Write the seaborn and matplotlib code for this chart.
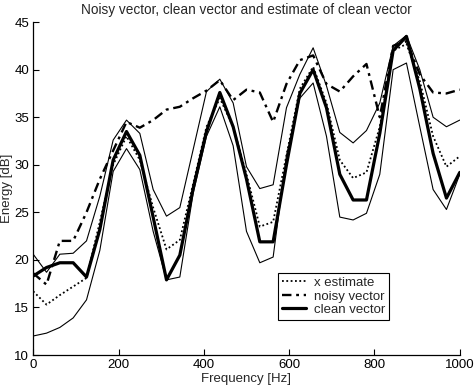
import numpy as np
import pandas as pd
import seaborn as sns
import matplotlib.pyplot as plt

# --- DATA ---
freq = np.linspace(0, 1000, 33)

clean_vector = [18.3, 19.2, 19.7, 19.7, 18.2, 23.2, 30.5, 33.5, 31.0, 24.5, 17.9,
                20.5, 27.5, 33.5, 37.6, 34.0, 28.5, 21.9, 21.9, 30.0, 37.5, 40.0,
                36.0, 29.0, 26.3, 26.3, 33.3, 42.0, 43.5, 38.0, 31.2, 26.5, 29.2]
x_estimate = [16.7, 15.3, 16.3, 17.2, 18.1, 24.0, 30.0, 33.0, 30.5, 25.5, 21.1,
              22.1, 28.0, 34.0, 37.0, 34.0, 29.0, 23.5, 24.0, 31.0, 38.0, 40.3,
              36.5, 30.5, 28.6, 29.2, 34.0, 42.0, 42.7, 38.8, 33.0, 29.8, 30.9]
noisy_vector = [18.6, 17.4, 22.0, 22.0, 25.0, 28.5, 31.5, 34.5, 33.9, 34.7, 35.8,
                36.1, 37.0, 37.8, 38.9, 36.8, 37.9, 37.6, 34.5, 38.5, 41.0, 41.5,
                38.5, 37.7, 39.3, 40.6, 35.0, 42.5, 43.0, 39.5, 37.6, 37.5, 37.9]
upper_bound = [20.6, 18.7, 20.6, 20.7, 22.0, 26.7, 32.6, 34.7, 33.3, 27.4, 24.6,
               25.5, 31.6, 37.7, 39.0, 36.5, 29.8, 27.5, 27.9, 36.0, 39.5, 42.3,
               38.3, 33.4, 32.3, 33.6, 36.5, 42.5, 43.6, 40.0, 35.0, 34.0, 34.7]
lower_bound = [12.0, 12.3, 12.9, 13.9, 15.8, 21.0, 29.3, 31.7, 29.5, 23.0, 17.9,
               18.2, 27.0, 33.0, 36.1, 32.0, 23.0, 19.7, 20.3, 31.0, 37.0, 38.6,
               33.0, 24.5, 24.2, 24.9, 29.0, 40.0, 40.7, 34.0, 27.4, 25.3, 29.0]

xticks = [0, 200, 400, 600, 800, 1000]
yticks = [10, 15, 20, 25, 30, 35, 40, 45]

# --- STYLE ---
sns.set_style("ticks")
plt.rcParams['font.family'] = ['Liberation Sans', 'DejaVu Sans']

fig, ax = plt.subplots(figsize=(4.74, 3.88), dpi=100)
fig.subplots_adjust(left=0.07, right=0.97, bottom=0.085, top=0.943)

# --- PLOT ---
sns.lineplot(x=freq, y=x_estimate, color='black', lw=1.3,
             linestyle=(0, (1, 1.4)), label='x estimate', ax=ax)
sns.lineplot(x=freq, y=noisy_vector, color='black', lw=1.7,
             linestyle=(0, (4, 2, 1.2, 2)), label='noisy vector', ax=ax)
sns.lineplot(x=freq, y=clean_vector, color='black', lw=2.3,
             label='clean vector', ax=ax)
# thin bounds around the estimate
sns.lineplot(x=freq, y=upper_bound, color='black', lw=0.8, ax=ax)
sns.lineplot(x=freq, y=lower_bound, color='black', lw=0.8, ax=ax)

ax.set_xlim(0, 1000)
ax.set_ylim(10, 45)
ax.set_xticks(xticks)
ax.set_yticks(yticks)
ax.tick_params(direction='in', length=4, labelsize=9.5, colors='black', pad=3)
sns.despine(ax=ax)
for s in ['left', 'bottom']:
    ax.spines[s].set_color('black')
    ax.spines[s].set_linewidth(0.9)

ax.set_title('Noisy vector, clean vector and estimate of clean vector', fontsize=9.8, pad=6)
ax.set_xlabel('Frequency [Hz]', fontsize=9.5, labelpad=1)
ax.set_ylabel('Energy [dB]', fontsize=9.5, labelpad=1)

leg = ax.legend(loc='lower left', bbox_to_anchor=(0.575, 0.105), fontsize=9.5,
                frameon=True, fancybox=False, edgecolor='black', framealpha=1,
                handlelength=1.8, handletextpad=0.6, borderpad=0.3, labelspacing=0.1,
                borderaxespad=0)
leg.get_frame().set_linewidth(0.8)

plt.savefig('out.png', dpi=100)
